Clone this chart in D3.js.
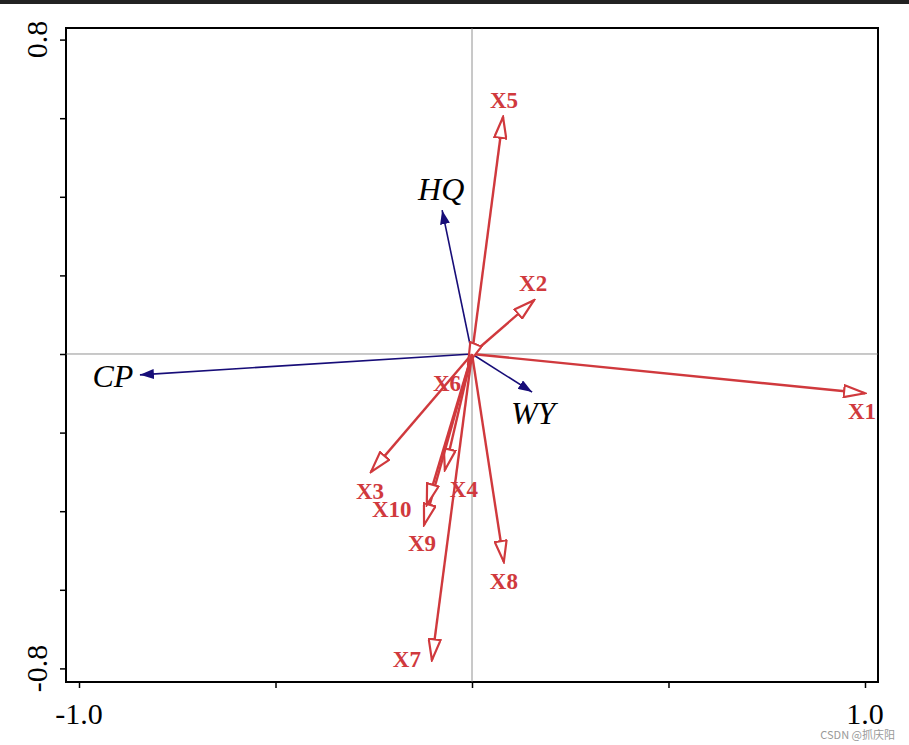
<!DOCTYPE html>
<html><head><meta charset="utf-8">
<script src="https://cdn.jsdelivr.net/npm/d3@7"></script>
<style>body{margin:0;background:#fff}</style>
</head><body>
<svg id="c" width="909" height="745"></svg>
<script>
// species (explanatory) arrows
var redNames = ["X1","X2","X3","X4","X5","X6","X7","X8","X9","X10"];
var redX = [1.0, 0.158, -0.257, -0.069, 0.079, -0.010, -0.102, 0.081, -0.122, -0.115];
var redY = [-0.10, 0.137, -0.300, -0.295, 0.603, -0.025, -0.779, -0.529, -0.435, -0.384];
// response arrows
var blueNames = ["HQ","CP","WY"];
var blueX = [-0.076, -0.845, 0.153];
var blueY = [0.366, -0.053, -0.097];
var xTicks = [-1, -0.5, 0, 0.5, 1];
var yTicks = [-0.8, -0.6, -0.4, -0.2, 0, 0.2, 0.4, 0.6, 0.8];
var xLabels = ["-1.0", "1.0"], yLabels = ["-0.8", "0.8"];

// label offsets in px (styling)
var redOff = {X1:[-3,26],X2:[-1,-9],X3:[-1,27],X4:[19,27],X5:[1,-9],X6:[-21,27],X7:[-25,7],X8:[0,27],X9:[-2,26],X10:[-35,12]};
var blueOff = {HQ:[-1,-10],CP:[-27,12],WY:[1,32]};

var svg = d3.select("#c");
svg.append("rect").attr("x",0).attr("y",0).attr("width",909).attr("height",4).attr("fill","#222");
var x = d3.scaleLinear().domain([-1.0331, 1.0331]).range([66, 878]);
var y = d3.scaleLinear().domain([0.8295, -0.8346]).range([28, 682]);

svg.append("rect").attr("x",66).attr("y",28).attr("width",812).attr("height",654)
  .attr("fill","none").attr("stroke","#000").attr("stroke-width",2);
svg.append("line").attr("x1",x(0)).attr("x2",x(0)).attr("y1",28).attr("y2",682).attr("stroke","#777").attr("stroke-width",0.8);
svg.append("line").attr("x1",66).attr("x2",878).attr("y1",y(0)).attr("y2",y(0)).attr("stroke","#777").attr("stroke-width",0.8);

var ax = svg.append("g").attr("transform","translate(0,682)")
  .call(d3.axisBottom(x).tickValues(xTicks).tickSize(6).tickFormat(""));
ax.select(".domain").remove();
ax.selectAll("line").attr("stroke","#000").attr("stroke-width",1.5);
var ay = svg.append("g").attr("transform","translate(66,0)")
  .call(d3.axisLeft(y).tickValues(yTicks).tickSize(6).tickFormat(""));
ay.select(".domain").remove();
ay.selectAll("line").attr("stroke","#000").attr("stroke-width",1.5);

var font = "Liberation Serif";
[-1,1].forEach(function(v,i){
  svg.append("text").attr("x",x(v)).attr("y",724).attr("text-anchor","middle")
    .style("font-family",font).attr("font-size",30).text(xLabels[i]);
});
[-0.8,0.8].forEach(function(v,i){
  svg.append("text").attr("transform","translate(47,"+y(v)+") rotate(-90)").attr("text-anchor","middle")
    .style("font-family",font).attr("font-size",30).text(yLabels[i]);
});

var defs = svg.append("defs");
defs.append("marker").attr("id","ro").attr("viewBox","0 0 24 14").attr("refX",22).attr("refY",7)
  .attr("markerWidth",24).attr("markerHeight",14).attr("markerUnits","userSpaceOnUse").attr("orient","auto")
  .append("path").attr("d","M1,1 L22,7 L1,13 Z").attr("fill","#fff").attr("stroke","#d0393d").attr("stroke-width",2.2);
defs.append("marker").attr("id","bo").attr("viewBox","0 0 14 10").attr("refX",14).attr("refY",5)
  .attr("markerWidth",14).attr("markerHeight",10).attr("markerUnits","userSpaceOnUse").attr("orient","auto")
  .append("path").attr("d","M0,0 L14,5 L0,10 Z").attr("fill","#170d78");

var red = redNames.map(function(n,i){return {n:n,x:redX[i],y:redY[i]};});
var blue = blueNames.map(function(n,i){return {n:n,x:blueX[i],y:blueY[i]};});

svg.selectAll(".bl").data(blue).enter().append("line")
  .attr("x1",x(0)).attr("y1",y(0)).attr("x2",function(d){return x(d.x);}).attr("y2",function(d){return y(d.y);})
  .attr("stroke","#170d78").attr("stroke-width",1.6).attr("marker-end","url(#bo)");
svg.selectAll(".rl").data(red).enter().append("line")
  .attr("x1",x(0)).attr("y1",y(0)).attr("x2",function(d){return x(d.x);}).attr("y2",function(d){return y(d.y);})
  .attr("stroke","#d0393d").attr("stroke-width",2.4).attr("marker-end","url(#ro)");

svg.selectAll(".rt").data(red).enter().append("text")
  .attr("x",function(d){return x(d.x)+redOff[d.n][0];}).attr("y",function(d){return y(d.y)+redOff[d.n][1];})
  .attr("text-anchor","middle").style("font-family",font).attr("font-weight","bold").attr("font-size",23)
  .attr("fill","#d0393d").text(function(d){return d.n;});
svg.selectAll(".bt").data(blue).enter().append("text")
  .attr("x",function(d){return x(d.x)+blueOff[d.n][0];}).attr("y",function(d){return y(d.y)+blueOff[d.n][1];})
  .attr("text-anchor","middle").style("font-family",font).attr("font-style","italic").attr("font-size",32)
  .attr("fill","#000").text(function(d){return d.n;});

svg.append("text").attr("x",895).attr("y",739).attr("text-anchor","end").style("font-family","Noto Sans CJK SC")
  .attr("font-size",11).attr("fill","#999").text("CSDN @抓庆阳");
</script>
</body></html>
